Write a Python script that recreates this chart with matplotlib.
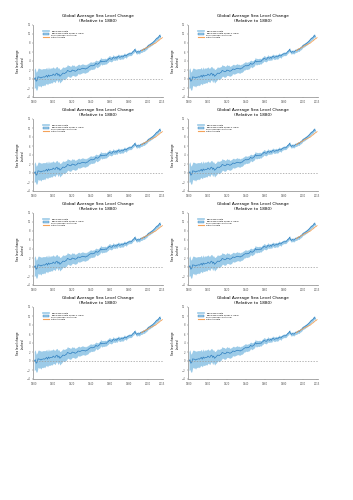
import numpy as np
import matplotlib
matplotlib.use('Agg')
import matplotlib.pyplot as plt
from matplotlib.lines import Line2D
from matplotlib.patches import Patch

# tide gauge record, inches relative to 1880 (one value per year, 1880-2013)
tide_years = list(range(1880, 2014))
tide_level = [
    0.0, 0.3, -0.5, -0.3, 0.5, 0.4, 0.4, 0.2, 0.4, 0.4,
    0.5, 0.4, 0.6, 0.8, 0.4, 0.9, 0.6, 0.8, 0.8, 0.8,
    1.1, 0.9, 0.8, 1.2, 1.3, 0.8, 1.1, 0.6, 0.8, 1.0,
    1.3, 1.3, 1.2, 1.4, 1.5, 1.9, 1.8, 1.7, 1.6, 1.7,
    2.0, 1.9, 1.9, 1.7, 1.8, 1.9, 2.2, 2.2, 2.1, 2.2,
    2.3, 2.4, 2.3, 2.3, 2.2, 2.4, 2.4, 2.6, 2.8, 2.9,
    3.0, 2.9, 3.0, 3.0, 3.2, 3.5, 3.3, 3.3, 3.5, 3.6,
    4.1, 3.8, 3.9, 3.9, 3.9, 4.0, 3.9, 4.2, 4.3, 4.6,
    4.5, 4.4, 4.4, 4.8, 4.7, 4.6, 4.8, 4.6, 5.0, 5.0,
    4.8, 4.9, 5.0, 4.9, 5.0, 5.3, 5.2, 5.1, 5.4, 5.5,
    5.6, 5.6, 5.6, 5.8, 6.1, 6.2, 6.6, 6.1, 5.9, 6.1,
    6.0, 6.0, 6.3, 6.3, 6.4, 6.6, 6.5, 6.8, 6.9, 7.1,
    7.4, 7.5, 7.6, 7.8, 7.9, 8.1, 8.3, 8.5, 8.8, 9.0,
    9.1, 9.3, 9.7, 9.4,
]
# half width of the 95% confidence band
tide_ci = [
    2.1, 2.2, 2.0, 2.1, 1.9, 2.0, 1.9, 2.0, 1.8, 1.9,
    1.8, 1.9, 1.7, 1.8, 1.7, 1.8, 1.6, 1.7, 1.6, 1.7,
    1.6, 1.5, 1.6, 1.5, 1.5, 1.6, 1.4, 1.5, 1.4, 1.4,
    1.4, 1.3, 1.4, 1.3, 1.3, 1.3, 1.2, 1.3, 1.2, 1.2,
    1.2, 1.1, 1.2, 1.1, 1.1, 1.1, 1.0, 1.1, 1.0, 1.0,
    1.0, 1.0, 0.9, 1.0, 0.9, 0.9, 0.9, 0.9, 0.8, 0.9,
    0.8, 0.8, 0.8, 0.8, 0.8, 0.7, 0.8, 0.7, 0.7, 0.7,
    0.7, 0.7, 0.7, 0.6, 0.7, 0.6, 0.6, 0.6, 0.6, 0.6,
    0.6, 0.6, 0.5, 0.6, 0.5, 0.5, 0.5, 0.5, 0.5, 0.5,
    0.5, 0.5, 0.5, 0.5, 0.5, 0.5, 0.4, 0.5, 0.4, 0.4,
    0.4, 0.4, 0.4, 0.4, 0.4, 0.4, 0.4, 0.4, 0.4, 0.4,
    0.4, 0.4, 0.4, 0.4, 0.4, 0.4, 0.4, 0.4, 0.4, 0.4,
    0.4, 0.4, 0.4, 0.4, 0.4, 0.4, 0.4, 0.4, 0.4, 0.4,
    0.4, 0.4, 0.4, 0.4,
]

sat_years = list(range(1993, 2016))
sat_level = [6.3, 6.4, 6.6, 6.7, 6.8, 6.9, 7.0, 7.1, 7.3, 7.4, 7.5, 7.6,
             7.7, 7.8, 7.9, 8.0, 8.2, 8.4, 8.5, 8.7, 8.9, 9.0, 9.2]

x_ticks = [1880, 1900, 1920, 1940, 1960, 1980, 2000, 2015]
y_ticks = [-4, -2, 0, 2, 4, 6, 8, 10, 12]

band_col = '#9ccbe8'
line_col = '#2f7fbf'
sat_col = '#f4a259'
grey = '#9a9a9a'

fig = plt.figure(figsize=(3.53, 5.0), dpi=100)

def draw_panel(ax):
    yrs = np.array(tide_years)
    lev = np.array(tide_level)
    ci = np.array(tide_ci)
    ax.fill_between(yrs, lev - ci, lev + ci, color=band_col, lw=0)
    ax.plot(yrs, lev, color=line_col, lw=0.5)
    ax.plot(sat_years, sat_level, color=sat_col, lw=0.6)
    ax.axhline(0, color=grey, lw=0.5, ls='--', dashes=(2, 2))
    ax.set_xlim(1879, 2016)
    ax.set_ylim(-4, 12)
    ax.set_xticks(x_ticks)
    ax.set_yticks(y_ticks)
    ax.tick_params(labelsize=1.8, length=1, width=0.3, pad=1, colors='#555555')
    for s in ['top', 'right']:
        ax.spines[s].set_visible(False)
    for s in ['left', 'bottom']:
        ax.spines[s].set_color(grey)
        ax.spines[s].set_linewidth(0.6)
    ax.set_ylabel('Sea level change\n(inches)', fontsize=2.0, labelpad=1.5)
    ax.set_title('Global Average Sea Level Change\n(Relative to 1880)',
                 fontsize=3.1, pad=2.5, linespacing=1.3)
    handles = [
        Line2D([0], [0], color=band_col, lw=1.2),
        Patch(facecolor=band_col, edgecolor=line_col, lw=0.3),
        Line2D([0], [0], color=sat_col, lw=0.8),
    ]
    labels = ['Tide gauge data',
              'Tide gauge data upper & lower\n95% confidence interval',
              'Satellite data']
    ax.legend(handles, labels, loc='upper left', fontsize=1.5, frameon=False,
              bbox_to_anchor=(0.06, 0.95), handlelength=3, labelspacing=0.5)

ax_w = 130 / 353
ax_h = 72 / 500
lefts = [33.3 / 353, 188 / 353]
for r in range(4):
    top = 25 + 94 * r
    bottom = 1 - (top + 72) / 500
    for c in range(2):
        ax = fig.add_axes([lefts[c], bottom, ax_w, ax_h])
        draw_panel(ax)

fig.savefig('out.png', dpi=100)
